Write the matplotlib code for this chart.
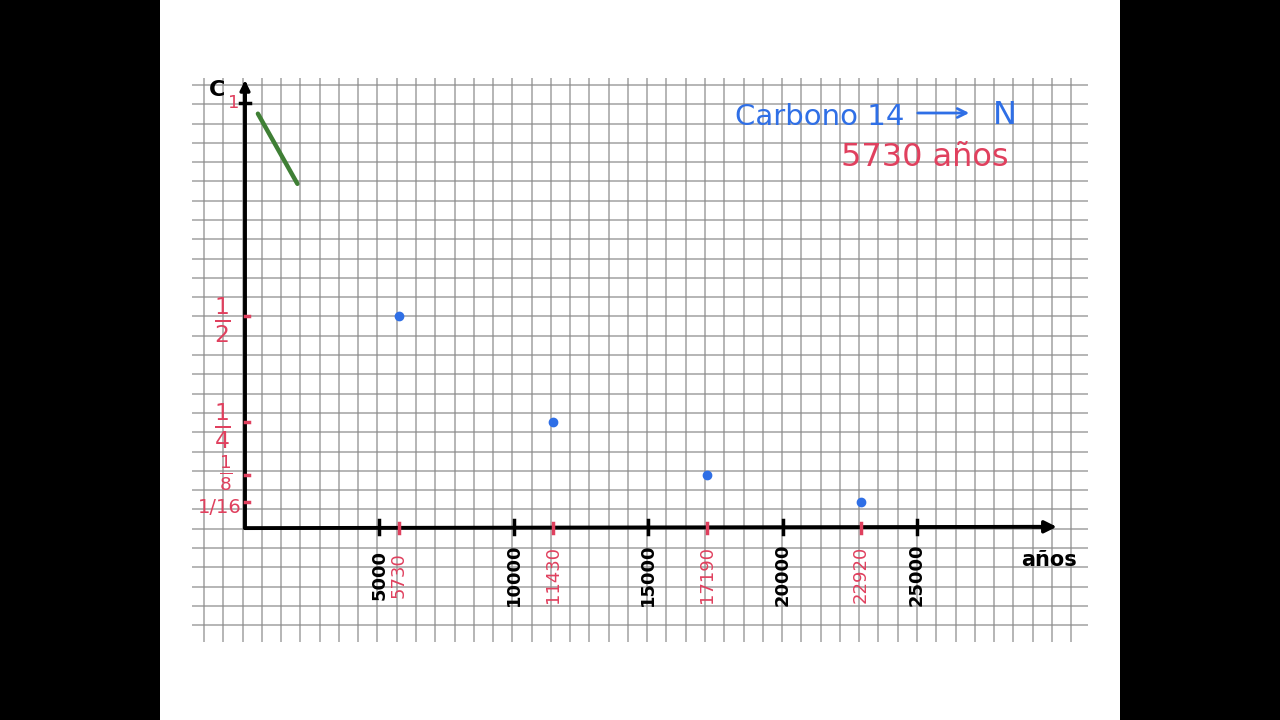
import numpy as np
import matplotlib
matplotlib.use('Agg')
import matplotlib.pyplot as plt

# half-life points (years, remaining fraction)
years = [5730, 11460, 17190, 22920]
fraction = [1/2, 1/4, 1/8, 1/16]
year_labels = ['5730', '11430', '17190', '22920']
frac_labels = [r'$\frac{1}{2}$', r'$\frac{1}{4}$', r'$\frac{1}{8}$', '1/16']
black_ticks = [5000, 10000, 15000, 20000, 25000]
# short green stroke at the start of the curve
curve_x = [480, 1950]
curve_y = [0.975, 0.81]

red = '#e0405e'
blue = '#2f6fe6'
green = '#3f7f35'

fig = plt.figure(figsize=(12.8, 7.2), dpi=100)
fig.patch.set_facecolor('black')

# white page
page = fig.add_axes([160/1280, 0, 960/1280, 1])
page.set_facecolor('white')
page.set_xticks([])
page.set_yticks([])
for s in page.spines.values():
    s.set_visible(False)

# squared paper
box = [192/1280, 1 - 642/720, 896/1280, 564/720]
paper = fig.add_axes(box)
paper.set_xlim(192, 1088)
paper.set_ylim(642, 78)
paper.axis('off')
paper.patch.set_alpha(0)
for gx in np.arange(204, 1080, 19.27):
    paper.axvline(gx, color='#8a8a8a', lw=1.1, alpha=0.8)
for gy in np.arange(85, 635, 19.29):
    paper.axhline(gy, color='#8a8a8a', lw=1.1, alpha=0.8)

# data axes on top
ax = fig.add_axes(box)
ax.set_xlim(-1972, 31362)
ax.set_ylim(-0.268, 1.059)
ax.axis('off')
ax.patch.set_alpha(0)

# hand drawn axes
ax.plot([0, 0], [0, 1.045], color='black', lw=2.8, solid_capstyle='round')
ax.plot([0, 29800], [0, 0.003], color='black', lw=2.8, solid_capstyle='round')
ax.annotate('', xy=(30300, 0.003), xytext=(29200, 0.003),
            arrowprops=dict(arrowstyle='-|>', color='black', lw=2.5, mutation_scale=18))
ax.annotate('', xy=(0, 1.06), xytext=(0, 1.0),
            arrowprops=dict(arrowstyle='-|>', color='black', lw=2.5, mutation_scale=14))
ax.plot([-180, 180], [1.0, 1.0], color='black', lw=2.5)

for t in black_ticks:
    ax.plot([t, t], [-0.015, 0.018], color='black', lw=2.5)
    ax.text(t, -0.11, str(t), rotation=90, ha='center', va='center',
            fontsize=13, fontweight='bold', color='black')

for x, lab in zip(years, year_labels):
    ax.plot([x, x], [-0.012, 0.012], color=red, lw=2.5)
    ax.text(x, -0.11, lab, rotation=90, ha='center', va='center',
            fontsize=13, color=red)

for y, lab in zip(fraction, frac_labels):
    ax.plot([0, 150], [y, y], color=red, lw=2.5)
    if lab == '1/16':
        ax.text(-950, y - 0.015, lab, ha='center', va='center', fontsize=14, color=red)
    elif y < 0.2:
        ax.text(-720, y + 0.005, lab, ha='center', va='center', fontsize=19, color=red)
    else:
        ax.text(-850, y - 0.01, lab, ha='center', va='center', fontsize=24, color=red)

ax.text(-420, 1.0, '1', ha='center', va='center', fontsize=13, color=red)
ax.text(-1050, 1.03, 'C', ha='center', va='center', fontsize=16, fontweight='bold', color='black')

ax.scatter(years, fraction, s=36, color=blue, zorder=5)
ax.plot(curve_x, curve_y, color=green, lw=3.2, solid_capstyle='round')

ax.text(29900, -0.075, 'años', ha='center', va='center', fontsize=15, fontweight='bold', color='black')

# notes top right
fig.text(735/1280, 1 - 117/720, 'Carbono 14', ha='left', va='center', fontsize=21, color=blue)
fig.text(1005/1280, 1 - 115/720, 'N', ha='center', va='center', fontsize=23, color=blue)
fig.patches.append(matplotlib.patches.FancyArrowPatch(
    (915/1280, 1 - 113/720), (972/1280, 1 - 113/720), transform=fig.transFigure,
    arrowstyle='->', mutation_scale=16, color=blue, lw=2))
fig.text(925/1280, 1 - 157/720, '5730 años', ha='center', va='center', fontsize=23, color=red)

fig.savefig('out.png', dpi=100, facecolor=fig.get_facecolor())
